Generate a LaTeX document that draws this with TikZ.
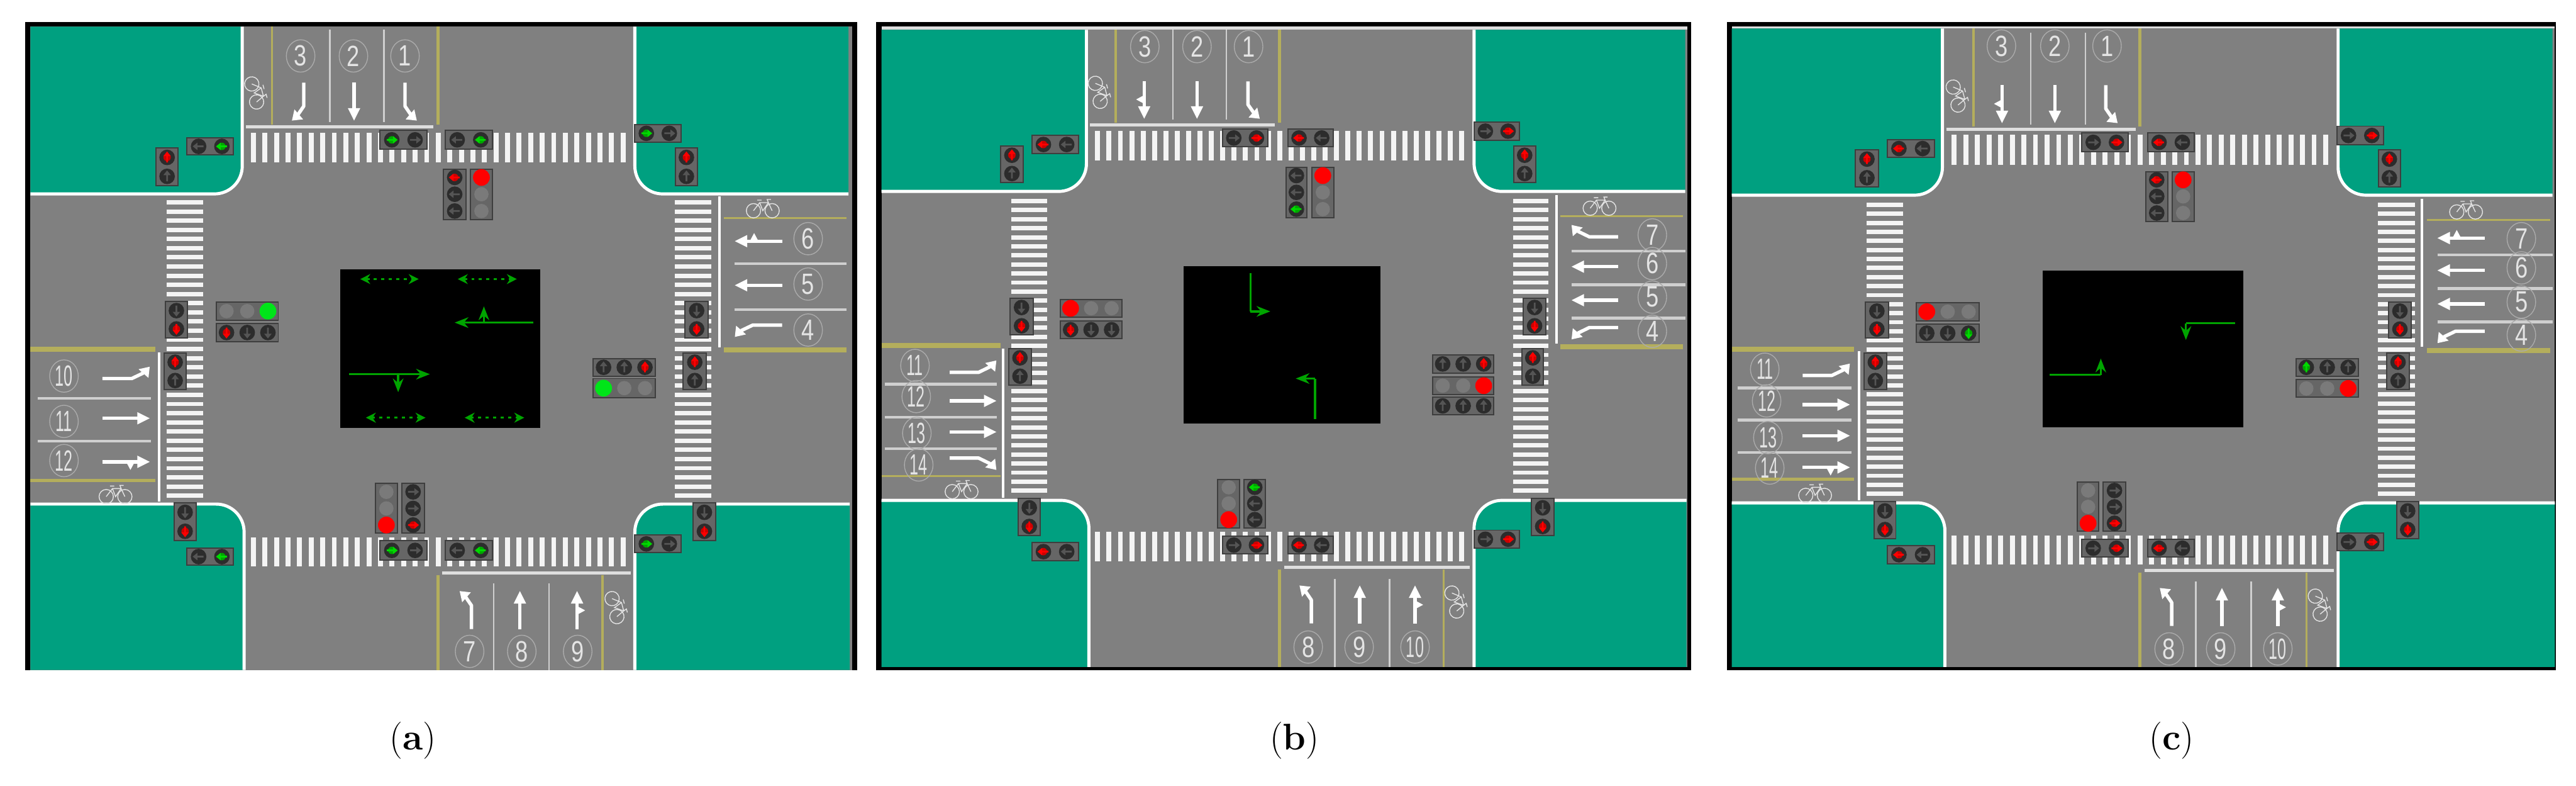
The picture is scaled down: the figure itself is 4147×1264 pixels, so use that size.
\documentclass[tikz,border=0pt]{standalone}
\usepackage{fontspec}
\newfontfamily\lanefont{Liberation Sans}
\definecolor{roadgray}{HTML}{808080}
\definecolor{parkgreen}{HTML}{00A080}
\definecolor{yelline}{HTML}{B4AE5C}
\definecolor{lanediv}{HTML}{CFCFCF}
\definecolor{stopl}{HTML}{DEDEDE}
\definecolor{zeb}{HTML}{F4F4F4}
\definecolor{tlfill}{HTML}{666666}
\definecolor{tledge}{HTML}{3E3E3E}
\definecolor{lampoff}{HTML}{2C2C2C}
\definecolor{lampglyph}{HTML}{555555}
\definecolor{flatoff}{HTML}{7A7A7A}
\definecolor{scrgreen}{HTML}{00A400}
\definecolor{numc}{HTML}{E4E4E4}
\definecolor{ringc}{HTML}{ABABAB}
\usetikzlibrary{arrows.meta,shapes.geometric}
\tikzset{
  tlbox/.style={fill=tlfill,draw=tledge,line width=.02cm},
  yel/.style={draw=yelline,line width=.05cm},
  yelthin/.style={draw=yelline,line width=.035cm},
  yelthick/.style={draw=yelline,line width=.08cm},
  divthin/.style={draw=lanediv,line width=.025cm},
  divthick/.style={draw=lanediv,line width=.045cm},
  stopline/.style={draw=stopl,line width=.055cm},
  whiteline/.style={draw=white,line width=.04cm},
  curb/.style={draw=white,line width=.05cm},
  lmark/.style={draw=white,line width=.055cm,line join=round},
  bikel/.style={draw=numc,line width=.014cm},
  scr/.style={draw=scrgreen,line width=.035cm},
  scrarrow/.style={scr,-{Stealth[length=.22cm,width=.17cm]}},
  scrdash/.style={draw=scrgreen,line width=.03cm,dash pattern=on .05cm off .07cm,{Stealth[length=.16cm,width=.16cm]}-{Stealth[length=.16cm,width=.16cm]}},
  lanenum/.style={ellipse,draw=ringc,line width=.014cm,minimum width=.46cm,minimum height=.52cm,inner sep=0pt,text=numc,font=\lanefont\fontsize{11}{11}\selectfont},
  capt/.style={font=\fontsize{17}{17}\selectfont,text=black,inner sep=0pt}
}
% --- macros
\newcommand{\lampGlyph}[1]{\fill[#1] (-8,-1.4) -- (2,-1.4) -- (2,-6) -- (9.5,0) -- (2,6) -- (2,1.4) -- (-8,1.4) -- cycle;}
\newcommand{\lampd}{\fill[lampoff] (0,0) circle (.125cm);\lampGlyph{lampglyph}}
\newcommand{\lampr}{\fill[lampoff] (0,0) circle (.125cm);\fill[red!80!black] (0,0) circle (.06cm);\lampGlyph{red}}
\newcommand{\lampg}{\fill[lampoff] (0,0) circle (.125cm);\fill[green!65!black] (0,0) circle (.06cm);\lampGlyph{green!85!black}}
\newcommand{\lampR}{\fill[red] (0,0) circle (.135cm);}
\newcommand{\lampG}{\fill[green!90!blue] (0,0) circle (.135cm);}
\newcommand{\lampo}{\fill[flatoff] (0,0) circle (.115cm);}
\newcount\tlN
\newcommand{\tl}[6]{%
  \global\tlN=0 \foreach \s in {#6}{\global\advance\tlN by 1}%
  \draw[tlbox] (#1,#2) rectangle (#3,#4);
  \pgfmathsetmacro\tlW{#3-#1}\pgfmathsetmacro\tlH{#4-#2}%
  \pgfmathtruncatemacro\tlHoriz{\tlW>\tlH?1:0}%
  \foreach \s [count=\i] in {#6}{%
    \pgfmathsetmacro\cx{\tlHoriz==1 ? #1+(\i-.5)*\tlW/\the\tlN : (#1+#3)/2}%
    \pgfmathsetmacro\cy{\tlHoriz==1 ? (#2+#4)/2 : #2+(\i-.5)*\tlH/\the\tlN}%
    \begin{scope}[shift={(\cx,\cy)},rotate=#5]\csname lamp\s\endcsname\end{scope}
  }}
\newcommand{\corner}[6]{%
  \fill[parkgreen] (#3,#4) -- (#1,#4) -- (#1,{#2+#6*45}) .. controls (#1,{#2+#6*20}) and ({#1+#5*20},#2) .. ({#1+#5*45},#2) -- (#3,#2) -- cycle;
  \draw[curb] (#1,#4) -- (#1,{#2+#6*45}) .. controls (#1,{#2+#6*20}) and ({#1+#5*20},#2) .. ({#1+#5*45},#2) -- (#3,#2);}
\newcommand{\zebraH}[4]{\foreach \i in {0,...,32}{\pgfmathsetmacro\zx{#1+\i/32*(#2-#1-8)}\fill[zeb] (\zx,#3) rectangle ({\zx+8},#4);}}
\newcommand{\zebraV}[4]{\foreach \i in {0,...,32}{\pgfmathsetmacro\zy{#3+\i/32*(#4-#3-7)}\fill[zeb] (#1,\zy) rectangle (#2,{\zy+7});}}
% lane arrow: tail x, y, angle, length, type, side
\newcommand{\larrow}[6]{\begin{scope}[shift={(#1,#2)},rotate=#3]\csname lane#5\endcsname{#4}{#6}\end{scope}}
\newcommand{\lanes}[2]{\draw[lmark] (0,0) -- ({#1-14},0);\fill[white] (#1,0) -- ({#1-20},10) -- ({#1-20},-10) -- cycle;}
\newcommand{\lanet}[2]{\lanes{#1}{#2}\fill[white] ({#1-24},0) -- ({#1-38},0) -- ({#1-31},{#2*13}) -- cycle;}
\newcommand{\laneb}[2]{\draw[lmark] (0,0) -- ({.62*#1},0) -- ({#1-10},{#2*9});\fill[white] (#1,{#2*19}) -- ({#1-2},{#2*1}) -- ({#1-18},{#2*15}) -- cycle;}
\newcommand{\bike}[3]{\begin{scope}[shift={(#1,#2)},rotate=#3]
  \draw[bikel] (-15,6) circle (.115cm) (15,6) circle (.115cm);
  \draw[bikel] (-15,6) -- (-5,-7) -- (9,-7) -- (15,6) (-5,-7) -- (0,6) -- (9,-7) (-9,-11) -- (-2,-11) (9,-7) -- (7,-12) -- (13,-12);
  \end{scope}}
\newcommand{\lnum}[3]{\node[lanenum] (n#1x#2) at (#1,#2) {\scalebox{.95}[1.22]{#3}};}
\newcommand{\lnumw}[3]{\node[lanenum] (n#1x#2) at (#1,#2) {\scalebox{.66}[1.22]{#3}};}
\begin{document}
\begin{tikzpicture}[x=.01cm,y=-.01cm]
\useasboundingbox (0,0) rectangle (4147,1264);
\fill[white] (0,0) rectangle (4147,1264);
%%%%%%%%%%%%%%%%%%% PANEL A
\fill[black] (41,35) rectangle (1380,1078);
\fill[roadgray] (49,43) rectangle (1372,1078);
\corner{390}{312}{49}{43}{-1}{-1}
\corner{1022}{312}{1366}{43}{1}{-1}
\corner{393}{811}{49}{1078}{-1}{1}
\corner{1022}{811}{1368}{1078}{1}{1}
\fill[black] (548,433) rectangle (870,688);
\zebraH{404}{1007}{214}{261}
\zebraH{404}{1007}{865}{911}
\zebraV{268}{327}{322}{801}
\zebraV{1086}{1145}{322}{801}
% top lanes
\draw[stopline] (396,204) -- (698,204);
\draw[yelthin] (438,43) -- (438,200);
\draw[yel] (705,43) -- (705,200);
\draw[divthin] (531,48) -- (531,196) (618,48) -- (618,196);
\lnum{484}{90}{3}\lnum{569}{90}{2}\lnum{652}{90}{1}
\larrow{489}{133}{-90}{61}{b}{1}\larrow{570}{133}{-90}{61}{s}{1}\larrow{652}{133}{-90}{61}{b}{-1}
\bike{415}{148}{-75}
% bottom lanes
\draw[stopline] (712,922) -- (1015,922);
\draw[yel] (705,925) -- (705,1078);
\draw[yelthin] (970,925) -- (970,1078);
\draw[divthin] (795,939) -- (795,1078) (884,939) -- (884,1078);
\lnum{756}{1048}{7}\lnum{840}{1048}{8}\lnum{930}{1048}{9}
\larrow{759}{1012}{90}{61}{b}{-1}\larrow{837}{1012}{90}{61}{s}{1}\larrow{929}{1012}{90}{61}{t}{1}
\bike{995}{976}{-75}
% right lanes
\draw[whiteline] (1158,316) -- (1158,559);
\draw[yelthin] (1165,351) -- (1363,351);
\draw[yelthick] (1165,563) -- (1363,563);
\draw[divthick] (1183,424) -- (1363,424) (1183,498) -- (1363,498);
\lnum{1301}{384}{6}\lnum{1301}{457}{5}\lnum{1301}{531}{4}
\larrow{1259}{388}{180}{76}{t}{1}\larrow{1259}{459}{180}{76}{s}{1}\larrow{1259}{523}{180}{76}{b}{-1}
\bike{1228}{333}{0}
% left lanes
\draw[yelthick] (49,562) -- (250,562);
\draw[whiteline] (256,567) -- (256,807);
\draw[divthick] (61,641) -- (243,641) (61,710) -- (243,710);
\draw[yel] (49,773) -- (250,773);
\lnumw{103}{605}{10}\lnumw{103}{678}{11}\lnumw{103}{741}{12}
\larrow{165}{609}{0}{76}{b}{-1}\larrow{165}{673}{0}{76}{s}{1}\larrow{165}{743}{0}{76}{t}{1}
\bike{186}{793}{0}
% signals
\tl{612}{210}{687}{240}{0}{g,d}\tl{717}{210}{793}{240}{180}{d,g}
\tl{301}{222}{376}{249}{180}{d,g}\tl{251}{238}{287}{299}{90}{r,d}
\tl{1022}{200}{1096}{229}{0}{g,d}\tl{1087}{238}{1123}{299}{90}{r,d}
\tl{714}{272}{750}{353}{180}{r,d,d}\tl{757}{272}{793}{353}{90}{R,o,o}
\tl{266}{485}{302}{544}{-90}{d,r}\tl{264}{568}{300}{627}{90}{r,d}
\tl{348}{486}{448}{515}{0}{o,o,G}\tl{348}{520}{448}{550}{-90}{r,d,d}
\tl{1103}{485}{1140}{544}{-90}{d,r}\tl{1100}{568}{1137}{627}{90}{r,d}
\tl{955}{577}{1055}{605}{90}{d,d,r}\tl{955}{609}{1055}{640}{0}{G,o,o}
\tl{604}{778}{640}{858}{0}{o,o,R}\tl{647}{778}{683}{858}{0}{d,d,r}
\tl{612}{870}{687}{901}{0}{g,d}\tl{717}{870}{793}{901}{180}{d,g}
\tl{301}{882}{376}{909}{180}{d,g}\tl{280}{809}{316}{870}{-90}{d,r}
\tl{1022}{861}{1096}{889}{0}{g,d}\tl{1116}{809}{1152}{870}{-90}{d,r}
% screen
\draw[scrdash] (580,449) -- (674,449);\draw[scrdash] (737,449) -- (832,449);
\draw[scrdash] (589,672) -- (685,672);\draw[scrdash] (748,672) -- (844,672);
\draw[scrarrow] (859,519) -- (732,519);\draw[scrarrow] (779,519) -- (779,493);
\draw[scrarrow] (562,602) -- (692,602);\draw[scrarrow] (641,602) -- (641,631);
\node[capt] (capa) at (665,1191) {(\textbf{a})};
%%%%%%%%%%%%%%%%%%% PANEL B
\fill[black] (1410,35) rectangle (2722,1078);
\fill[roadgray] (1419,43) rectangle (2716,1073);
\fill[stopl] (1419,43) rectangle (2716,48);
\corner{1749}{308}{1419}{48}{-1}{-1}
\corner{2373}{308}{2713}{48}{1}{-1}
\corner{1753}{805}{1419}{1073}{-1}{1}
\corner{2373}{805}{2715}{1073}{1}{1}
\fill[black] (1905,428) rectangle (2222,681);
\zebraH{1763}{2357}{211}{258}
\zebraH{1763}{2357}{856}{903}
\zebraV{1628}{1686}{320}{793}
\zebraV{2436}{2493}{320}{793}
\draw[stopline] (1755,201) -- (2052,201);
\draw[yelthin] (1796,48) -- (1796,197);
\draw[yel] (2060,48) -- (2060,197);
\draw[divthin] (1888,48) -- (1888,192) (1974,48) -- (1974,192);
\lnum{1843}{75}{3}\lnum{1927}{75}{2}\lnum{2010}{75}{1}
\larrow{1842}{131}{-90}{60}{t}{1}\larrow{1927}{131}{-90}{60}{s}{1}\larrow{2009}{131}{-90}{60}{b}{-1}
\bike{1773}{147}{-75}
\draw[stopline] (2067,913) -- (2366,913);
\draw[yel] (2060,916) -- (2060,1073);
\draw[yelthin] (2324,916) -- (2324,1073);
\draw[divthin] (2149,931) -- (2149,1073) (2237,931) -- (2237,1073);
\lnum{2106}{1041}{8}\lnum{2188}{1041}{9}\lnumw{2278}{1041}{10}
\larrow{2111}{1003}{90}{61}{b}{-1}\larrow{2189}{1003}{90}{61}{s}{1}\larrow{2278}{1003}{90}{61}{t}{1}
\bike{2347}{967}{-75}
\draw[whiteline] (2506,314) -- (2506,553);
\draw[yelthin] (2512,348) -- (2709,348);
\draw[yelthick] (2512,558) -- (2709,558);
\draw[divthick] (2530,404) -- (2713,404) (2530,458) -- (2713,458) (2530,512) -- (2713,512);
\lnum{2660}{378}{7}\lnum{2660}{424}{6}\lnum{2660}{478}{5}\lnum{2660}{533}{4}
\larrow{2605}{381}{180}{75}{b}{1}\larrow{2605}{429}{180}{75}{s}{1}\larrow{2605}{483}{180}{75}{s}{1}\larrow{2605}{527}{180}{75}{b}{-1}
\bike{2575}{329}{0}
\draw[yelthick] (1419,556) -- (1611,556);
\draw[whiteline] (1615,561) -- (1615,801);
\draw[divthick] (1424,618) -- (1605,618) (1424,671) -- (1605,671) (1424,722) -- (1605,722);
\draw[yelthin] (1419,766) -- (1611,766);
\lnumw{1473}{588}{11}\lnumw{1475}{638}{12}\lnumw{1476}{697}{13}\lnumw{1479}{748}{14}
\larrow{1529}{599}{0}{75}{b}{-1}\larrow{1529}{645}{0}{75}{s}{1}\larrow{1529}{695}{0}{75}{s}{1}\larrow{1529}{737}{0}{75}{b}{1}
\bike{1548}{785}{0}
\tl{1968}{208}{2041}{236}{0}{d,r}\tl{2073}{208}{2146}{236}{180}{r,d}
\tl{1661}{218}{1736}{247}{180}{r,d}\tl{1611}{235}{1647}{294}{90}{r,d}
\tl{2373}{196}{2446}{226}{0}{d,r}\tl{2437}{235}{2472}{294}{90}{r,d}
\tl{2070}{269}{2104}{350}{180}{d,d,g}\tl{2112}{269}{2147}{350}{90}{R,o,o}
\tl{1626}{480}{1663}{539}{-90}{d,r}\tl{1624}{561}{1660}{620}{90}{r,d}
\tl{1707}{482}{1806}{510}{0}{R,o,o}\tl{1707}{516}{1806}{545}{-90}{r,d,d}
\tl{2452}{480}{2489}{539}{-90}{d,r}\tl{2450}{561}{2485}{620}{90}{r,d}
\tl{2306}{571}{2405}{600}{90}{d,d,r}\tl{2306}{606}{2405}{635}{0}{o,o,R}\tl{2306}{639}{2405}{667}{90}{d,d,d}
\tl{1960}{771}{1996}{849}{0}{o,o,R}\tl{2003}{771}{2037}{849}{180}{g,d,d}
\tl{1968}{863}{2041}{891}{0}{d,r}\tl{2073}{863}{2146}{891}{180}{r,d}
\tl{1661}{873}{1736}{902}{180}{r,d}\tl{1639}{802}{1675}{862}{-90}{d,r}
\tl{2373}{853}{2446}{882}{0}{d,r}\tl{2465}{802}{2502}{862}{-90}{d,r}
\draw[scr] (2013,439) -- (2013,501);\draw[scrarrow] (2013,501) -- (2045,501);
\draw[scr] (2117,674) -- (2117,609);\draw[scrarrow] (2117,609) -- (2086,609);
\node[capt] (capb) at (2084,1191) {(\textbf{b})};
%%%%%%%%%%%%%%%%%%% PANEL C
\fill[black] (2780,35) rectangle (4115,1078);
\fill[roadgray] (2788,43) rectangle (4113,1073);
\fill[stopl] (2788,43) rectangle (4113,46);
\corner{3127}{314}{2788}{46}{-1}{-1}
\corner{3764}{314}{4109}{46}{1}{-1}
\corner{3131}{809}{2788}{1073}{-1}{1}
\corner{3764}{809}{4113}{1073}{1}{1}
\fill[black] (3288,435) rectangle (3611,687);
\zebraH{3142}{3748}{217}{265}
\zebraH{3142}{3748}{862}{908}
\zebraV{3005}{3064}{326}{798}
\zebraV{3828}{3888}{326}{798}
\draw[stopline] (3133,208) -- (3438,208);
\draw[yelthin] (3177,46) -- (3177,204);
\draw[yel] (3445,46) -- (3445,204);
\draw[divthin] (3269,53) -- (3269,200) (3357,53) -- (3357,200);
\lnum{3222}{74}{3}\lnum{3308}{74}{2}\lnum{3392}{74}{1}
\larrow{3223}{137}{-90}{61}{t}{1}\larrow{3308}{137}{-90}{61}{s}{1}\larrow{3390}{137}{-90}{61}{b}{-1}
\bike{3154}{153}{-75}
\draw[stopline] (3452,918) -- (3757,918);
\draw[yel] (3445,921) -- (3445,1073);
\draw[yelthin] (3713,921) -- (3713,1073);
\draw[divthin] (3535,936) -- (3535,1073) (3624,936) -- (3624,1073);
\lnum{3492}{1044}{8}\lnum{3575}{1044}{9}\lnumw{3667}{1044}{10}
\larrow{3496}{1007}{90}{61}{b}{-1}\larrow{3577}{1007}{90}{61}{s}{1}\larrow{3667}{1007}{90}{61}{t}{1}
\bike{3737}{972}{-75}
\draw[whiteline] (3899,320) -- (3899,558);
\draw[yelthin] (3907,354) -- (4105,354);
\draw[yelthick] (3907,564) -- (4105,564);
\draw[divthick] (3924,410) -- (4109,410) (3924,464) -- (4109,464) (3924,518) -- (4109,518);
\lnum{4059}{384}{7}\lnum{4059}{431}{6}\lnum{4059}{486}{5}\lnum{4059}{539}{4}
\larrow{4000}{383}{180}{76}{t}{1}\larrow{4000}{435}{180}{76}{s}{1}\larrow{4000}{489}{180}{76}{s}{1}\larrow{4000}{533}{180}{76}{b}{-1}
\bike{3970}{335}{0}
\draw[yelthick] (2788,562) -- (2985,562);
\draw[whiteline] (2993,565) -- (2993,805);
\draw[divthick] (2797,624) -- (2981,624) (2797,676) -- (2981,676) (2797,728) -- (2981,728);
\draw[yel] (2788,771) -- (2985,771);
\lnumw{2841}{594}{11}\lnumw{2844}{645}{12}\lnumw{2846}{704}{13}\lnumw{2849}{753}{14}
\larrow{2902}{604}{0}{76}{b}{-1}\larrow{2902}{651}{0}{76}{s}{1}\larrow{2902}{701}{0}{76}{s}{1}\larrow{2902}{752}{0}{76}{t}{1}
\bike{2922}{791}{0}
\tl{3351}{214}{3426}{244}{0}{d,r}\tl{3457}{214}{3532}{244}{180}{r,d}
\tl{3038}{225}{3114}{253}{180}{r,d}\tl{2987}{241}{3024}{301}{90}{r,d}
\tl{3762}{203}{3837}{233}{0}{d,r}\tl{3829}{241}{3864}{301}{90}{r,d}
\tl{3454}{276}{3490}{356}{180}{r,d,d}\tl{3497}{276}{3532}{356}{90}{R,o,o}
\tl{3003}{486}{3040}{544}{-90}{d,r}\tl{3001}{568}{3037}{627}{90}{r,d}
\tl{3085}{487}{3186}{516}{0}{R,o,o}\tl{3085}{521}{3186}{551}{-90}{d,d,g}
\tl{3845}{486}{3882}{544}{-90}{d,r}\tl{3842}{568}{3879}{627}{90}{r,d}
\tl{3696}{577}{3797}{605}{90}{g,d,d}\tl{3696}{611}{3797}{639}{0}{o,o,R}
\tl{3344}{776}{3379}{855}{0}{o,o,R}\tl{3386}{776}{3422}{855}{0}{d,d,r}
\tl{3351}{868}{3426}{896}{0}{d,r}\tl{3457}{868}{3532}{896}{180}{r,d}
\tl{3038}{878}{3114}{907}{180}{r,d}\tl{3017}{807}{3052}{867}{-90}{d,r}
\tl{3762}{858}{3837}{886}{0}{d,r}\tl{3858}{807}{3894}{867}{-90}{d,r}
\draw[scr] (3598,520) -- (3519,520);\draw[scrarrow] (3519,520) -- (3519,547);
\draw[scr] (3300,603) -- (3382,603);\draw[scrarrow] (3382,603) -- (3382,577);
\node[capt] (capc) at (3496,1191) {(\textbf{c})};
\end{tikzpicture}
\end{document}
